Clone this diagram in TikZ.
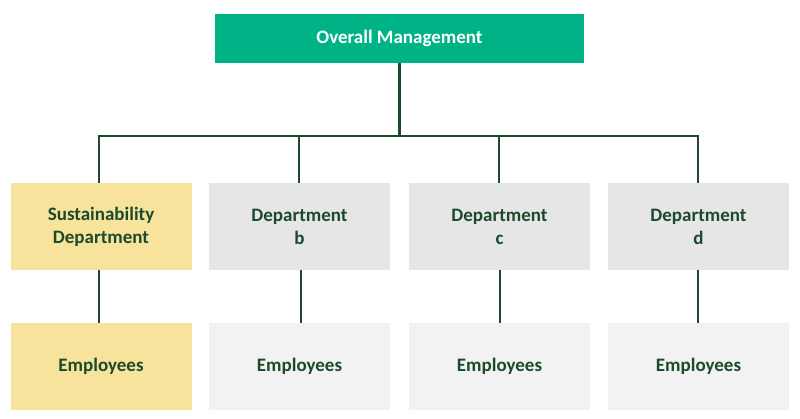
\documentclass[tikz,border=0pt]{standalone}
\usepackage{fontspec}
\setmainfont{Carlito}
\definecolor{topg}{HTML}{00B386}
\definecolor{txt}{HTML}{1B4A2C}
\definecolor{yel}{HTML}{F7E39C}
\definecolor{gr1}{HTML}{E6E6E6}
\definecolor{gr2}{HTML}{F2F2F2}
\begin{document}
\begin{tikzpicture}[x=1pt,y=-1pt,
  box/.style={minimum width=181pt,minimum height=87pt,inner sep=0pt,align=center,text=txt,font=\fontsize{19}{23}\selectfont\bfseries},
  ln/.style={draw=txt,line width=2.5pt}]
\useasboundingbox (0,0) rectangle (800,419);
\node[box,fill=topg,text=white,minimum width=369pt,minimum height=49pt] (top) at (399.5,38.5) {Overall Management};
\node[box,fill=yel] (a1) at (101,226.5) {Sustainability\\Department};
\node[box,fill=gr1] (b1) at (299.5,226.5) {Department\\b};
\node[box,fill=gr1] (c1) at (499.5,226.5) {Department\\c};
\node[box,fill=gr1] (d1) at (698.5,226.5) {Department\\d};
\node[box,fill=yel] (a2) at (101,366.5) {Employees};
\node[box,fill=gr2] (b2) at (299.5,366.5) {Employees};
\node[box,fill=gr2] (c2) at (499.5,366.5) {Employees};
\node[box,fill=gr2] (d2) at (698.5,366.5) {Employees};
\coordinate (j) at (399.5,136);
\draw[ln] (top.south) -- (j);
\draw[ln,line cap=rect] (99,136) -- (698,136);
\draw[ln] (99,136) -- (99,183);
\draw[ln] (299,136) -- (299,183);
\draw[ln] (499,136) -- (499,183);
\draw[ln] (698,136) -- (698,183);
\draw[ln] (99,270) -- (99,323);
\draw[ln] (301,270) -- (301,323);
\draw[ln] (500,270) -- (500,323);
\draw[ln] (698,270) -- (698,323);
\end{tikzpicture}
\end{document}
